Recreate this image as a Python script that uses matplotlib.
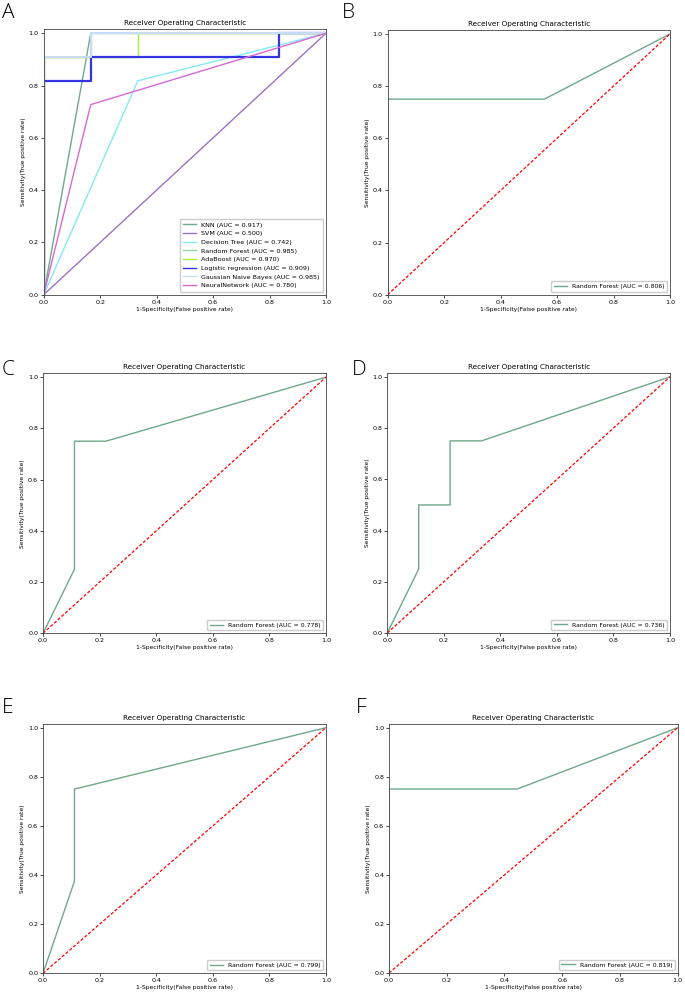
import matplotlib
matplotlib.use('Agg')
import matplotlib.pyplot as plt

# Panel A: todos los modelos
modelos = ['KNN', 'SVM', 'Decision Tree', 'Random Forest', 'AdaBoost',
           'Logistic regression', 'Gaussian Naive Bayes', 'NeuralNetwork']
auc_modelos = [0.917, 0.500, 0.742, 0.985, 0.970, 0.909, 0.985, 0.780]
colores = ['#6fa88a', '#9b72c4', '#86e9f7', '#8fd8a6', '#a6ee3a',
           '#3434e0', '#c6dcf6', '#d66ad2']
anchos = [1.0, 1.0, 1.0, 1.0, 1.0, 1.6, 1.5, 1.0]

fpr_modelos = [
    [0, 1/6, 1],
    [0, 1],
    [0, 1/3, 1],
    [0, 0, 1/6, 1/6, 1],
    [0, 0, 1/3, 1/3, 1],
    [0, 0, 1/6, 1/6, 5/6, 5/6, 1],
    [0, 0, 1/6, 1/6, 1],
    [0, 1/6, 1],
]
tpr_modelos = [
    [0, 1, 1],
    [0, 1],
    [0, 0.818, 1],
    [0, 0.909, 0.909, 1, 1],
    [0, 0.909, 0.909, 1, 1],
    [0, 0.818, 0.818, 0.909, 0.909, 1, 1],
    [0, 0.909, 0.909, 1, 1],
    [0, 0.727, 1],
]

# Paneles B-F: Random Forest
fpr_rf = [
    [0, 0, 5/9, 1],
    [0, 1/9, 1/9, 2/9, 1],
    [0, 1/9, 1/9, 2/9, 2/9, 3/9, 1],
    [0, 1/9, 1/9, 1],
    [0, 0, 4/9, 1],
]
tpr_rf = [
    [0, 0.75, 0.75, 1],
    [0, 0.25, 0.75, 0.75, 1],
    [0, 0.25, 0.5, 0.5, 0.75, 0.75, 1],
    [0, 0.375, 0.75, 1],
    [0, 0.75, 0.75, 1],
]
auc_rf = [0.806, 0.778, 0.736, 0.799, 0.819]
letras = ['A', 'B', 'C', 'D', 'E', 'F']

W, H = 685, 993
# cajas de los ejes en pixeles (izq, der, arriba, abajo)
cajas = [
    (43.7, 326, 29.3, 294.7),
    (387.7, 670, 30, 294.7),
    (43, 326, 373.3, 633.3),
    (387.3, 670, 373, 633),
    (43, 326, 724, 973.3),
    (389, 677.7, 724, 973),
]
pos_letras = [(2, 3), (342, 3), (2, 360), (352, 360), (2, 698), (356, 698)]

fig = plt.figure(figsize=(W / 100, H / 100), dpi=100)


def preparar(ax):
    ax.set_xlim(0, 1)
    ax.set_ylim(0, 1.015)
    ax.set_title('Receiver Operating Characteristic', fontsize=5.2, pad=3)
    ax.set_xlabel('1-Specificity(False positive rate)', fontsize=4.3, labelpad=1.5)
    ax.set_ylabel('Sensitivity(True positive rate)', fontsize=4.3, labelpad=2)
    ax.tick_params(labelsize=4.6, length=2, width=0.5, pad=1.5)
    for s in ax.spines.values():
        s.set_linewidth(0.6)
        s.set_color('#444444')


axes = []
for (l, r, t, b) in cajas:
    ax = fig.add_axes([l / W, 1 - b / H, (r - l) / W, (b - t) / H])
    preparar(ax)
    axes.append(ax)

ax = axes[0]
for nombre, auc, fx, ty, c, lw in zip(modelos, auc_modelos, fpr_modelos,
                                      tpr_modelos, colores, anchos):
    ax.plot(fx, ty, color=c, lw=lw, label='%s (AUC = %0.3f)' % (nombre, auc))
leg = ax.legend(loc='lower right', fontsize=4.6, handlelength=2.0,
                borderpad=0.5, labelspacing=0.5, framealpha=1,
                edgecolor='#cccccc')
for h in leg.get_lines():
    h.set_linewidth(1.0)

for ax, fx, ty, auc in zip(axes[1:], fpr_rf, tpr_rf, auc_rf):
    ax.plot(fx, ty, color='#6fa88a', lw=1.0,
            label='Random Forest (AUC = %0.3f)' % auc)
    ax.plot([0, 1], [0, 1], 'r--', lw=0.9, dashes=(2.5, 1.5))
    ax.legend(loc='lower right', fontsize=4.4, handlelength=2.2,
              borderpad=0.4, framealpha=1, edgecolor='#cccccc')

for letra, (x, y) in zip(letras, pos_letras):
    fig.text(x / W, 1 - y / H, letra, fontsize=15, fontweight='light',
             va='top', ha='left', family=['Open Sans', 'DejaVu Sans'])

plt.savefig('out.png', dpi=100)
